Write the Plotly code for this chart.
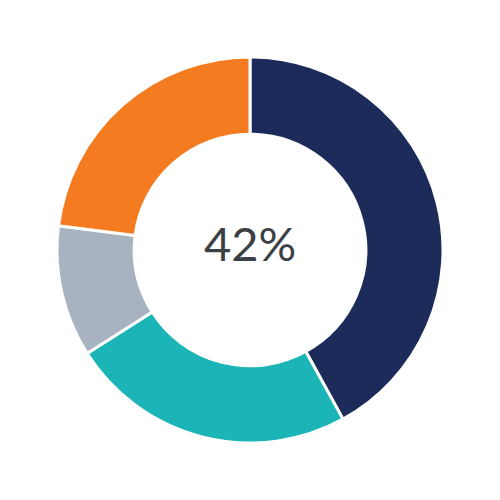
import plotly.graph_objects as go

# slice shares, clockwise from 12 o'clock
labels = ["Navy", "Teal", "Gray", "Orange"]
values = [42, 24, 11, 23]
colors = ["#1c2b5a", "#1bb5b7", "#a8b3c2", "#f47b20"]
center_text = "42%"

fig = go.Figure(go.Pie(
    labels=labels, values=values, hole=0.6, sort=False, direction="clockwise",
    rotation=0, textinfo="none", hoverinfo="label+percent",
    marker=dict(colors=colors, line=dict(color="white", width=3)),
))

fig.add_annotation(text=center_text, x=0.5, y=0.5, xref="paper", yref="paper", yshift=7,
                   showarrow=False, font=dict(family="Lato", size=47, color="#3b4045"))

# page body adds an 8px offset, so shift the pie up/left to centre it in the window
fig.update_layout(
    width=500, height=500, showlegend=False,
    margin=dict(l=49, r=65, t=49, b=65),
    paper_bgcolor="white", plot_bgcolor="white",
)
fig.write_html("out.html")
